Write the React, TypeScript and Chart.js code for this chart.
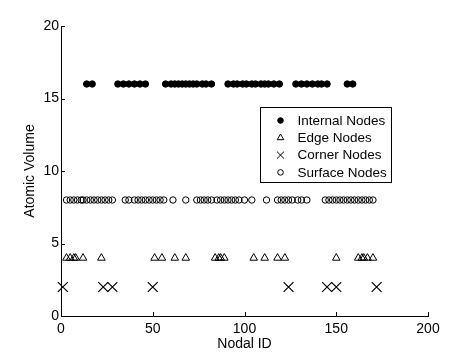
import React, { useEffect, useRef } from 'react';
import { Chart, registerables } from 'chart.js';

Chart.register(...registerables);

// ---- data ----
const seriesLabels = ['Internal Nodes', 'Edge Nodes', 'Corner Nodes', 'Surface Nodes'];

const internalVolume = 16;
const internalIds = [14, 17, 31, 34, 37, 40, 43, 46, 57, 60, 62, 64, 66, 68, 70, 72, 74, 77, 79, 82, 91, 94, 96, 99, 101, 104, 106, 109, 111, 113, 116, 119, 128, 131, 134, 137, 140, 142, 145, 156, 159];

const edgeVolume = 4;
const edgeIds = [3, 5, 7, 8, 12, 22, 51, 55, 62, 68, 84, 86, 87, 89, 105, 111, 118, 122, 150, 162, 164, 165, 167, 170];

const cornerVolume = 2;
const cornerIds = [1, 23, 28, 50, 124, 145, 150, 172];

const surfaceVolume = 8;
const surfaceIds = [3, 5, 7, 9, 11, 12, 14, 16, 18, 20, 22, 24, 26, 28, 35, 37, 40, 42, 44, 46, 48, 50, 52, 54, 56, 61, 68, 74, 76, 78, 80, 82, 85, 87, 89, 91, 93, 95, 97, 100, 104, 112, 118, 120, 122, 124, 126, 129, 131, 134, 144, 146, 148, 150, 152, 154, 156, 158, 160, 162, 164, 166, 168, 170];

const xTickStep = 50;
const xMin = 0;
const xMax = 200;
const yTickStep = 5;
const yMin = 0;
const yMax = 20;
const xTitle = 'Nodal ID';
const yTitle = 'Atomic Volume';

const FONT = '"Liberation Sans", Arial, Helvetica, sans-serif';

function drawMarker(ctx: CanvasRenderingContext2D, style: string, filled: boolean, x: number, y: number, r: number) {
  ctx.beginPath();
  if (style === 'circle') {
    ctx.arc(x, y, r, 0, Math.PI * 2);
  } else if (style === 'triangle') {
    ctx.moveTo(x, y - r);
    ctx.lineTo(x + Math.sin(Math.PI * 2 / 3) * r, y + r / 2);
    ctx.lineTo(x - Math.sin(Math.PI * 2 / 3) * r, y + r / 2);
    ctx.closePath();
  } else if (style === 'crossRot') {
    const d = r * Math.SQRT1_2;
    ctx.moveTo(x - d, y - d);
    ctx.lineTo(x + d, y + d);
    ctx.moveTo(x - d, y + d);
    ctx.lineTo(x + d, y - d);
  }
  if (filled) {
    ctx.fillStyle = '#000';
    ctx.fill();
  }
  ctx.strokeStyle = '#000';
  ctx.lineWidth = 1;
  ctx.stroke();
}

const matlabPlugin = {
  id: 'matlabLook',
  afterDraw(chart: any) {
    const { ctx, chartArea, scales } = chart;
    const x = scales.x;
    const y = scales.y;
    ctx.save();
    ctx.strokeStyle = '#000';
    ctx.lineWidth = 1;
    ctx.beginPath();
    x.ticks.forEach((t: any) => {
      const px = Math.round(x.getPixelForValue(t.value)) + 0.5;
      ctx.moveTo(px, chartArea.bottom);
      ctx.lineTo(px, chartArea.bottom - 4);
    });
    y.ticks.forEach((t: any) => {
      const py = Math.round(y.getPixelForValue(t.value)) + 0.5;
      ctx.moveTo(chartArea.left, py);
      ctx.lineTo(chartArea.left + 4, py);
    });
    ctx.stroke();

    // legend box inside the axes
    const bx = Math.round(chartArea.left + 199) + 0.5;
    const by = Math.round(chartArea.top + 81) + 0.5;
    const bw = 131;
    const bh = 75;
    ctx.fillStyle = '#fff';
    ctx.fillRect(bx, by, bw, bh);
    ctx.strokeRect(bx, by, bw, bh);
    ctx.font = '13.5px ' + FONT;
    ctx.textBaseline = 'middle';
    ctx.textAlign = 'left';
    chart.data.datasets.forEach((ds: any, i: number) => {
      const ry = by + 13 + i * 17.3;
      const filled = ds.backgroundColor === '#000';
      const r = ds.pointStyle === 'crossRot' ? 5 : ds.pointStyle === 'triangle' ? 3.8 : 2.8;
      drawMarker(ctx, ds.pointStyle, filled, bx + 20, ry, r);
      ctx.fillStyle = '#000';
      ctx.fillText(ds.label, bx + 37, ry + 0.5);
    });
    ctx.restore();
  },
};

function toPoints(ids: number[], v: number) {
  return ids.map((id) => ({ x: id, y: v }));
}

export default function App() {
  const ref = useRef<HTMLCanvasElement>(null);
  useEffect(() => {
    if (!ref.current) return;
    const chart = new Chart(ref.current, {
      type: 'scatter',
      data: {
        datasets: [
          {
            label: seriesLabels[0],
            data: toPoints(internalIds, internalVolume),
            pointStyle: 'circle',
            pointRadius: 3.2,
            backgroundColor: '#000',
            borderColor: '#000',
            borderWidth: 1,
            clip: false,
          },
          {
            label: seriesLabels[1],
            data: toPoints(edgeIds, edgeVolume),
            pointStyle: 'triangle',
            pointRadius: 4.4,
            backgroundColor: 'rgba(0,0,0,0)',
            borderColor: '#000',
            borderWidth: 1,
            clip: false,
          },
          {
            label: seriesLabels[2],
            data: toPoints(cornerIds, cornerVolume),
            pointStyle: 'crossRot',
            pointRadius: 7,
            backgroundColor: 'rgba(0,0,0,0)',
            borderColor: '#000',
            borderWidth: 1.2,
            clip: false,
          },
          {
            label: seriesLabels[3],
            data: toPoints(surfaceIds, surfaceVolume),
            pointStyle: 'circle',
            pointRadius: 3.2,
            backgroundColor: 'rgba(0,0,0,0)',
            borderColor: '#000',
            borderWidth: 1,
            clip: false,
          },
        ] as any,
      },
      options: {
        responsive: false,
        animation: false,
        events: [],
        layout: { padding: { left: 0, top: 26, right: 46, bottom: 0 } },
        plugins: { legend: { display: false }, tooltip: { enabled: false } },
        scales: {
          x: {
            type: 'linear',
            min: xMin,
            max: xMax,
            grid: { display: false, drawTicks: false },
            border: { display: true, color: '#000', width: 1 },
            ticks: { stepSize: xTickStep, color: '#000', font: { size: 14, family: FONT }, padding: 5, maxRotation: 0 },
            title: { display: true, text: xTitle, color: '#000', font: { size: 14, family: FONT }, padding: { top: 0, bottom: 2.6 } },
            afterFit: (s: any) => { s.height = 39; },
          },
          y: {
            type: 'linear',
            min: yMin,
            max: yMax,
            grid: { display: false, drawTicks: false },
            border: { display: true, color: '#000', width: 1 },
            ticks: { stepSize: yTickStep, color: '#000', font: { size: 14, family: FONT }, padding: 2 },
            title: { display: true, text: yTitle, color: '#000', font: { size: 14, family: FONT }, padding: { top: 21.6, bottom: 0 } },
            afterFit: (s: any) => { s.width = 61; },
          },
        },
      } as any,
      plugins: [matlabPlugin],
    });
    return () => chart.destroy();
  }, []);
  return (
    <div style={{ position: 'absolute', left: 0, top: 0, width: 474, height: 355, background: '#fff' }}>
      <canvas ref={ref} width={474} height={355} style={{ display: 'block' }} />
    </div>
  );
}
